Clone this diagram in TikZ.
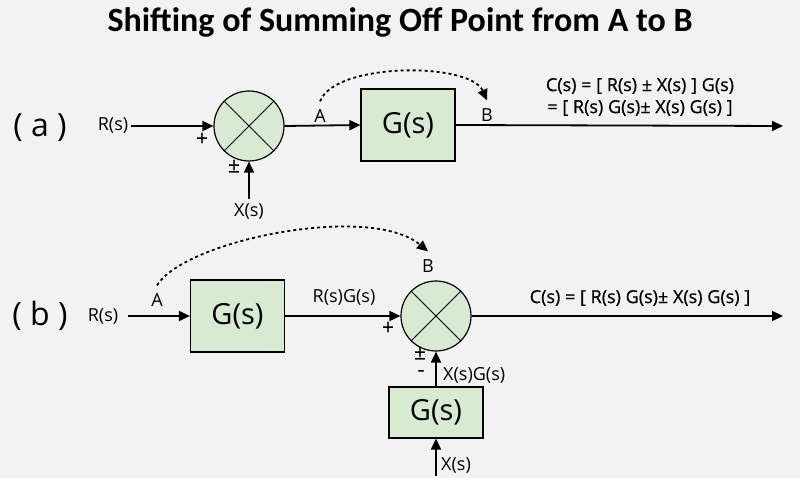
\documentclass[tikz,border=0pt]{standalone}
\usepackage{fontspec}
\setmainfont{Open Sans}
\newfontfamily\titlefont{Carlito}
\newfontface\eqfont[FakeBold=0.6]{Open Sans}
\usetikzlibrary{arrows.meta}
\definecolor{bggray}{HTML}{F2F2F2}
\definecolor{blkgreen}{HTML}{D9EAD3}

\begin{document}
\begin{tikzpicture}[x=1pt,y=-1pt,>={Triangle[length=11pt,width=10pt]},
  blk/.style={draw,line width=1.2pt,fill=blkgreen,minimum width=94pt,minimum height=72pt,font=\fontsize{29}{32}\selectfont},
  sumpt/.style={draw,circle,line width=1.2pt,fill=blkgreen,minimum size=70pt,inner sep=0pt},
  sig/.style={line width=1.8pt,->},
  jump/.style={line width=1.8pt,dash pattern=on 3pt off 3pt,->},
  lbl/.style={font=\fontsize{18}{21}\selectfont,inner sep=0pt},
  sgn/.style={font=\eqfont\fontsize{21}{21}\selectfont,inner sep=0pt,text height=9pt,text depth=0pt},
  eqn/.style={font=\eqfont\fontsize{18}{22}\selectfont,inner sep=0pt,align=center},
  tag/.style={font=\fontsize{32}{36}\selectfont,inner sep=0pt}]
\fill[bggray] (0,0) rectangle (800,478);
\useasboundingbox (0,0) rectangle (800,478);
\node[font=\titlefont\bfseries\fontsize{34}{36}\selectfont] (title) at (400,22) {Shifting of Summing Off Point from A to B};
% ---------- panel a: before the shift ----------
\begin{scope}
  \node[tag] (taga) at (40,128) {( a )};
  \node[lbl] (Ra) at (113,126) {R(s)};
  \node[sumpt] (Sa) at (249,126) {};
  \draw[line width=0.8pt] (Sa.north west) -- (Sa.south east) (Sa.north east) -- (Sa.south west);
  \node[blk] (Ga) at (408,125) {G(s)};
  \coordinate (Ca) at (783,126);
  \node[lbl] (Xa) at (249,211) {X(s)};
  \node[sgn] (pa) at (202,141) {+};
  \node[sgn] (pma) at (234,168) {±};
  \node[lbl] (Aa) at (320,116) {A};
  \node[lbl] (Ba) at (487,115) {B};
  \draw[sig] ([xshift=3pt]Ra.east) -- (Sa.west);
  \draw[sig] ([yshift=4pt]Xa.north) -- (Sa.south);
  \draw[sig] (Sa.east) -- (Ga.west);
  \draw[sig] (Ga.east) -- (Ca);
  \draw[jump] ([yshift=8pt]Aa.north) .. controls (335,62) and (470,62) .. ([yshift=8pt]Ba.north);
  \node[eqn] (Eqa) at (640,97) {C(s) = [ R(s) ± X(s) ] G(s)\\= [ R(s) G(s)± X(s) G(s) ]};
\end{scope}
% ---------- panel b: after the shift ----------
\begin{scope}
  \node[tag] (tagb) at (40,316) {( b )};
  \node[lbl] (Rb) at (103,316) {R(s)};
  \node[blk] (Gb) at (237.5,316) {G(s)};
  \node[sumpt] (Sb) at (436,316) {};
  \draw[line width=0.8pt] (Sb.north west) -- (Sb.south east) (Sb.north east) -- (Sb.south west);
  \node[blk,minimum height=51pt] (Gc) at (436,412.5) {G(s)};
  \coordinate (Cb) at (783,316);
  \coordinate (Xin) at (436,476);
  \node[lbl,anchor=west] (Xb) at (441,465) {X(s)};
  \node[lbl] (RG) at (344,297) {R(s)G(s)};
  \node[lbl,anchor=west] (XG) at (443,375) {X(s)G(s)};
  \node[sgn] (pb) at (388,330) {+};
  \node[sgn] (pmb) at (420,355) {±};
  \node[sgn] (mb) at (421,372) {-};
  \node[lbl] (Ab) at (157,300) {A};
  \node[lbl] (Bb) at (428,266) {B};
  \draw[sig] ([xshift=10pt]Rb.east) -- (Gb.west);
  \draw[sig] (Gb.east) -- (Sb.west);
  \draw[sig] (Sb.east) -- (Cb);
  \draw[sig] (Gc.north) -- (Sb.south);
  \draw[sig] (Xin) -- (Gc.south);
  \draw[jump] ([yshift=8pt]Ab.north) .. controls (185,240) and (370,203) .. ([yshift=8pt]Bb.north);
  \node[eqn] (Eqb) at (640,298) {C(s) = [ R(s) G(s)± X(s) G(s) ]};
\end{scope}
\end{tikzpicture}
\end{document}
